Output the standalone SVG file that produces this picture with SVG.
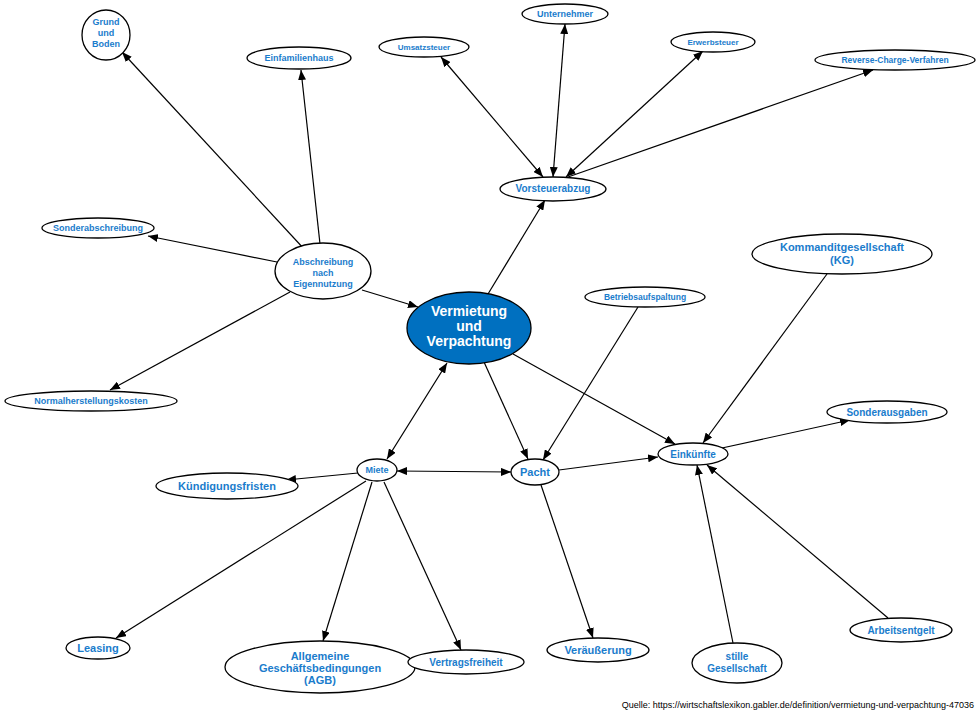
<svg xmlns="http://www.w3.org/2000/svg" width="980" height="719" viewBox="0 0 980 719">
<style>
.e line{stroke:#000;stroke-width:1.2;fill:none}
.n ellipse{fill:#fff;stroke:#000;stroke-width:1.3}
.n text{font-family:"Liberation Sans",Arial,sans-serif;font-weight:bold;fill:#1a7ccc;text-anchor:middle}
.s{font-size:9px}.m{font-size:11px}.l{font-size:12px}
</style>
<defs>
<marker id="a" viewBox="0 0 10 8" refX="10" refY="4" markerWidth="10" markerHeight="8" markerUnits="userSpaceOnUse" orient="auto-start-reverse"><path d="M0,0L10,4L0,8z" fill="#000"/></marker>
</defs>
<rect width="980" height="719" fill="#fff"/>
<g class="e">
<line x1="305" y1="250" x2="122" y2="52" marker-end="url(#a)"/>
<line x1="320" y1="244" x2="301" y2="70" marker-end="url(#a)"/>
<line x1="277" y1="262" x2="148" y2="236" marker-end="url(#a)"/>
<line x1="290" y1="292" x2="110" y2="390" marker-end="url(#a)"/>
<line x1="362" y1="290" x2="418" y2="307" marker-end="url(#a)"/>
<line x1="488" y1="294" x2="545" y2="200" marker-end="url(#a)"/>
<line x1="441" y1="57" x2="543" y2="177" marker-start="url(#a)" marker-end="url(#a)"/>
<line x1="565" y1="24" x2="553" y2="177" marker-start="url(#a)" marker-end="url(#a)"/>
<line x1="703" y1="51" x2="566" y2="177" marker-start="url(#a)" marker-end="url(#a)"/>
<line x1="568" y1="177" x2="873" y2="70" marker-end="url(#a)"/>
<line x1="447" y1="363" x2="387" y2="459" marker-start="url(#a)" marker-end="url(#a)"/>
<line x1="484" y1="362" x2="528" y2="459" marker-end="url(#a)"/>
<line x1="513" y1="354" x2="675" y2="444" marker-end="url(#a)"/>
<line x1="397" y1="471" x2="511" y2="472" marker-start="url(#a)" marker-end="url(#a)"/>
<line x1="358" y1="473" x2="286" y2="480" marker-end="url(#a)"/>
<line x1="366" y1="481" x2="116" y2="638" marker-end="url(#a)"/>
<line x1="372" y1="482" x2="323" y2="641" marker-end="url(#a)"/>
<line x1="384" y1="482" x2="461" y2="650" marker-end="url(#a)"/>
<line x1="541" y1="485" x2="593" y2="638" marker-end="url(#a)"/>
<line x1="559" y1="470" x2="658" y2="457" marker-end="url(#a)"/>
<line x1="638" y1="307" x2="543" y2="460" marker-end="url(#a)"/>
<line x1="827" y1="274" x2="703" y2="443" marker-end="url(#a)"/>
<line x1="722" y1="448" x2="850" y2="420" marker-end="url(#a)"/>
<line x1="733" y1="643" x2="697" y2="465" marker-end="url(#a)"/>
<line x1="888" y1="618" x2="707" y2="465" marker-end="url(#a)"/>
</g>
<g id="grund" class="n"><ellipse cx="106" cy="35" rx="24" ry="25"/><text class="s" x="106" y="25">Grund</text><text class="s" x="106" y="36">und</text><text class="s" x="106" y="47">Boden</text></g>
<g id="einfam" class="n"><ellipse cx="299" cy="58" rx="52" ry="11"/><text class="s" x="299" y="61">Einfamilienhaus</text></g>
<g id="umsatz" class="n"><ellipse cx="424" cy="47" rx="45" ry="10"/><text class="s" x="424" y="50" style="font-size:8px">Umsatzsteuer</text></g>
<g id="untern" class="n"><ellipse cx="565" cy="14" rx="43" ry="10"/><text class="s" x="565" y="17">Unternehmer</text></g>
<g id="erwerb" class="n"><ellipse cx="713" cy="42" rx="42" ry="10"/><text class="s" x="713" y="45" style="font-size:8px">Erwerbsteuer</text></g>
<g id="reverse" class="n"><ellipse cx="895" cy="60" rx="80" ry="10"/><text class="s" x="895" y="63" style="font-size:8.5px">Reverse-Charge-Verfahren</text></g>
<g id="vorst" class="n"><ellipse cx="553" cy="189" rx="53" ry="12"/><text class="s" x="553" y="192" style="font-size:10px">Vorsteuerabzug</text></g>
<g id="sonderab" class="n"><ellipse cx="98" cy="228" rx="56" ry="10"/><text class="s" x="98" y="231">Sonderabschreibung</text></g>
<g id="abschr" class="n"><ellipse cx="323" cy="271" rx="48" ry="28"/><text class="s" x="323" y="265">Abschreibung</text><text class="s" x="323" y="276">nach</text><text class="s" x="323" y="287">Eigennutzung</text></g>
<g id="verm" class="n"><ellipse cx="469" cy="328" rx="62" ry="36" style="fill:#0070c0"/><text x="469" y="316" style="font-size:14px;fill:#fff">Vermietung</text><text x="469" y="331" style="font-size:14px;fill:#fff">und</text><text x="469" y="346" style="font-size:14px;fill:#fff">Verpachtung</text></g>
<g id="betrieb" class="n"><ellipse cx="645" cy="297" rx="60" ry="10"/><text class="s" x="645" y="300" style="font-size:8.5px">Betriebsaufspaltung</text></g>
<g id="kg" class="n"><ellipse cx="842" cy="254" rx="90" ry="20"/><text class="m" x="842" y="251">Kommanditgesellschaft</text><text class="m" x="842" y="264">(KG)</text></g>
<g id="normal" class="n"><ellipse cx="91" cy="401" rx="86" ry="10"/><text class="s" x="91" y="404">Normalherstellungskosten</text></g>
<g id="sonderaus" class="n"><ellipse cx="887" cy="412" rx="60" ry="11"/><text class="m" x="887" y="416" style="font-size:10px">Sonderausgaben</text></g>
<g id="eink" class="n"><ellipse cx="693" cy="454" rx="35" ry="11"/><text class="m" x="693" y="458" style="font-size:10px">Einkünfte</text></g>
<g id="miete" class="n"><ellipse cx="377" cy="470" rx="20" ry="11"/><text class="s" x="377" y="473">Miete</text></g>
<g id="pacht" class="n"><ellipse cx="535" cy="472" rx="24" ry="13"/><text class="m" x="535" y="476">Pacht</text></g>
<g id="kuend" class="n"><ellipse cx="227" cy="486" rx="71" ry="13"/><text class="m" x="227" y="490">Kündigungsfristen</text></g>
<g id="leasing" class="n"><ellipse cx="98" cy="648" rx="32" ry="11"/><text class="m" x="98" y="652">Leasing</text></g>
<g id="agb" class="n"><ellipse cx="320" cy="667" rx="95" ry="26"/><text class="m" x="320" y="660">Allgemeine</text><text class="m" x="320" y="672">Geschäftsbedingungen</text><text class="m" x="320" y="684">(AGB)</text></g>
<g id="vertrag" class="n"><ellipse cx="466" cy="662" rx="58" ry="12"/><text class="s" x="466" y="666" style="font-size:10px">Vertragsfreiheit</text></g>
<g id="veraeuss" class="n"><ellipse cx="598" cy="650" rx="51" ry="12"/><text class="m" x="598" y="654">Veräußerung</text></g>
<g id="stille" class="n"><ellipse cx="737" cy="663" rx="45" ry="20"/><text class="s" x="737" y="660" style="font-size:10px">stille</text><text class="s" x="737" y="672" style="font-size:10px">Gesellschaft</text></g>
<g id="arbeit" class="n"><ellipse cx="901" cy="630" rx="51" ry="12"/><text class="s" x="901" y="634" style="font-size:10px">Arbeitsentgelt</text></g>
<text x="974" y="708" text-anchor="end" style="font-family:'Liberation Sans',Arial,sans-serif;font-size:9px;fill:#000">Quelle: https://wirtschaftslexikon.gabler.de/definition/vermietung-und-verpachtung-47036</text>
</svg>
